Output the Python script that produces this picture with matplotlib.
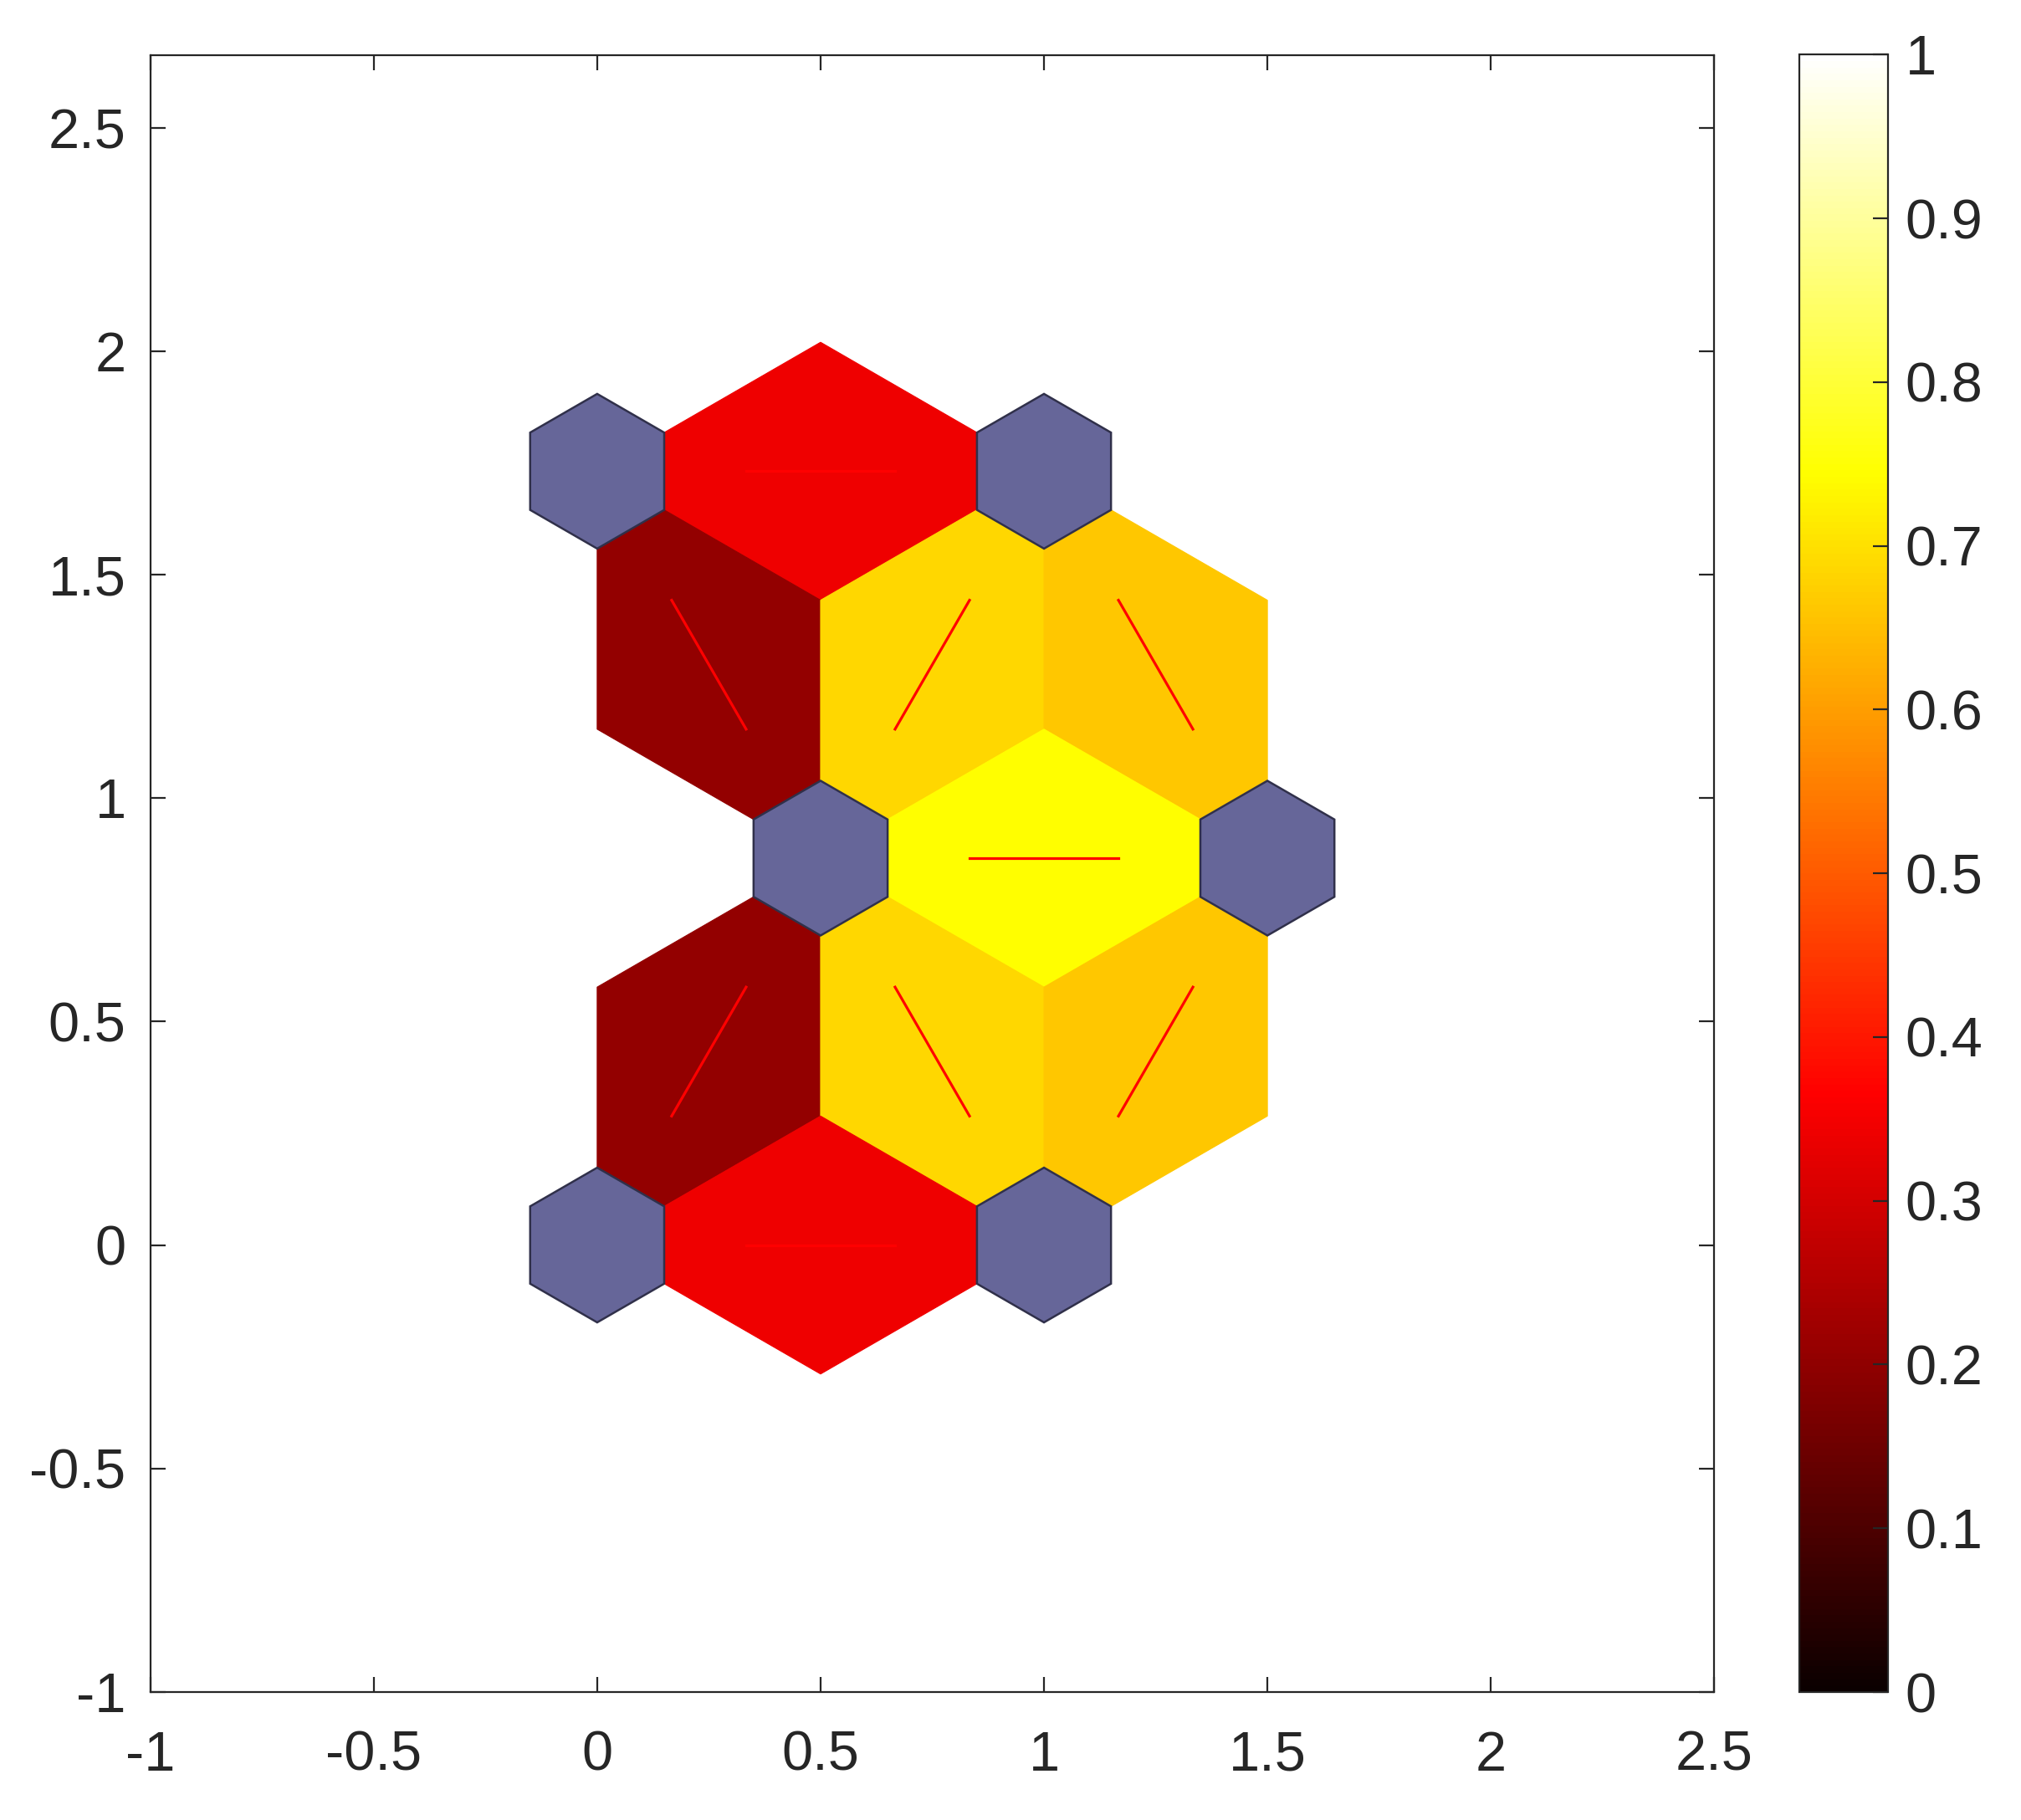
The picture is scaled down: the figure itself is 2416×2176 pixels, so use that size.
import numpy as np
import matplotlib
matplotlib.use("Agg")
import matplotlib.pyplot as plt
from matplotlib.collections import PolyCollection
from matplotlib.patches import RegularPolygon
from matplotlib.ticker import FuncFormatter

plt.rcParams['font.family'] = ['Liberation Sans', 'DejaVu Sans']

# lattice sites (small hexagons)
site_x = [0.0, 1.0, 0.5, 1.5, 0.0, 1.0]
site_y = [1.732, 1.732, 0.866, 0.866, 0.0, 0.0]

# bonds between sites (index pairs) and their values (colour)
bond_i = [0, 0, 1, 1, 2, 2, 2, 3, 4]
bond_j = [1, 2, 2, 3, 3, 4, 5, 5, 5]
bond_val = [0.34, 0.205, 0.685, 0.664, 0.745, 0.205, 0.685, 0.664, 0.34]

xticks = [-1, -0.5, 0, 0.5, 1, 1.5, 2, 2.5]
yticks = [-1, -0.5, 0, 0.5, 1, 1.5, 2, 2.5]
cbar_ticks = [0, 0.1, 0.2, 0.3, 0.4, 0.5, 0.6, 0.7, 0.8, 0.9, 1]

fig = plt.figure(figsize=(24.16, 21.76), dpi=100)
ax = fig.add_axes([0.0744, 0.0703, 0.7738, 0.8997])
cax = fig.add_axes([0.8902, 0.0703, 0.044, 0.8997])

sx = np.array(site_x)
sy = np.array(site_y)
polys = []
segs = []
for i, j in zip(bond_i, bond_j):
    p1 = np.array([sx[i], sy[i]])
    p2 = np.array([sx[j], sy[j]])
    mid = (p1 + p2) / 2
    d = p2 - p1
    L = np.hypot(*d)
    n = np.array([-d[1], d[0]]) / L
    h = L / (2 * np.sqrt(3))
    polys.append([p1, mid + n * h, p2, mid - n * h])
    segs.append((p1 + d / 3, p1 + 2 * d / 3))

pc = PolyCollection(polys, cmap='hot', edgecolors='face', linewidths=0.8)
pc.set_array(np.array(bond_val))
pc.set_clim(0, 1)
ax.add_collection(pc)

for a, b in segs:
    ax.plot([a[0], b[0]], [a[1], b[1]], color='#ff0000', lw=2.3, zorder=3)

for x, y in zip(site_x, site_y):
    ax.add_patch(RegularPolygon((x, y), numVertices=6, radius=0.1732,
                                orientation=0, facecolor='#666699',
                                edgecolor='#30304a', linewidth=1.8, zorder=4))

ax.set_xlim(-1, 2.5)
ax.set_ylim(-1, 2.664)
ax.set_aspect('equal')
fmt = FuncFormatter(lambda v, p: ('%g' % v))
ax.set_xticks(xticks)
ax.set_yticks(yticks)
ax.xaxis.set_major_formatter(fmt)
ax.yaxis.set_major_formatter(fmt)
ax.tick_params(direction='in', length=13, width=1.6, color='#262626',
               labelsize=48, top=True, right=True, labelcolor='#262626')
ax.tick_params(axis='x', pad=33)
ax.tick_params(axis='y', pad=21)
for s in ax.spines.values():
    s.set_linewidth(1.6)
    s.set_color('#262626')

cb = fig.colorbar(pc, cax=cax, ticks=cbar_ticks)
cb.ax.yaxis.set_major_formatter(fmt)
cb.ax.tick_params(direction='in', length=13, width=1.6, color='#262626',
                  labelsize=48, pad=15, labelcolor='#262626')
cb.outline.set_linewidth(1.6)
cb.outline.set_edgecolor('#262626')

fig.savefig('out.png', dpi=100)
